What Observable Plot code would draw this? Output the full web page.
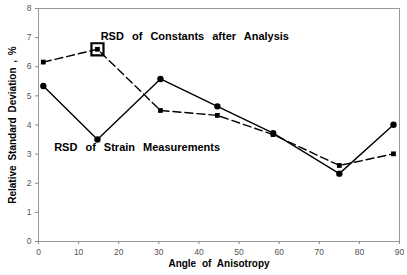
<!DOCTYPE html>
<html><head><meta charset="utf-8">
<script src="https://cdn.jsdelivr.net/npm/d3@7"></script>
<script src="https://cdn.jsdelivr.net/npm/@observablehq/plot@0.6"></script>
<style>
body{margin:0;background:#fff;}
</style>
</head><body><div id="chart"></div>
<script>
const angles = [1.2, 14.7, 30.4, 44.6, 58.5, 75, 88.5];
const strainRSD = [5.34, 3.5, 5.58, 4.64, 3.72, 2.33, 4.01];
const constantsRSD = [6.16, 6.6, 4.5, 4.33, 3.67, 2.61, 3.01];
const xTicks = [0,10,20,30,40,50,60,70,80,90];
const yTicks = [0,1,2,3,4,5,6,7,8];
const highlightIndex = 1;

const strain = angles.map((a,i)=>({x:a, y:strainRSD[i]}));
const constants = angles.map((a,i)=>({x:a, y:constantsRSD[i]}));
const highlight = [constants[highlightIndex]];

const bold = {fontFamily:"Liberation Sans, Arial, sans-serif", fontWeight:"bold", fill:"#000"};

const chart = Plot.plot({
  width: 407, height: 275,
  marginLeft: 38, marginRight: 8, marginTop: 8, marginBottom: 34,
  style: {fontFamily:"Liberation Sans, Arial, sans-serif", fontSize:"8.5px", color:"#555", background:"#fff"},
  x: {domain:[0,90]},
  y: {domain:[0,8]},
  marks: [
    Plot.frame({stroke:"#999"}),
    Plot.axisX({ticks:xTicks, tickSize:3, tickPadding:4, label:null, stroke:"#888"}),
    Plot.axisY({ticks:yTicks, tickSize:3, tickPadding:4, label:null, stroke:"#888"}),
    Plot.line(strain, {x:"x", y:"y", stroke:"#000", strokeWidth:1.4}),
    Plot.line(constants, {x:"x", y:"y", stroke:"#000", strokeWidth:1.4, strokeDasharray:"8,4"}),
    Plot.dot(strain, {x:"x", y:"y", symbol:"circle", r:3.2, fill:"#000"}),
    Plot.dot(constants, {x:"x", y:"y", symbol:"square", r:2.7, fill:"#000"}),
    Plot.dot(highlight, {x:"x", y:"y", symbol:"square", r:6.8, fill:"none", stroke:"#000", strokeWidth:2.2}),
    Plot.text(["RSD of Constants after Analysis"], {x:15.5, y:7.05, text:d=>d, textAnchor:"start", fontSize:11, ...bold, className:"w5"}),
    Plot.text(["RSD of Strain Measurements"], {x:3.9, y:3.23, text:d=>d, textAnchor:"start", fontSize:11, ...bold, className:"w5"}),
    Plot.text(["Angle of Anisotropy"], {frameAnchor:"bottom", dy:25, text:d=>d, fontSize:10, ...bold, className:"w3"}),
    Plot.text(["Relative Standard Deviation , %"], {frameAnchor:"left", textAnchor:"middle", dx:-26, rotate:-90, text:d=>d, fontSize:10, ...bold, className:"w2"})
  ]
});
document.getElementById("chart").appendChild(chart);
</script>
<style>
.w5 text{word-spacing:5px;}
.w3 text{word-spacing:3px;}
.w2 text{word-spacing:2px;}
</style>
</body></html>
